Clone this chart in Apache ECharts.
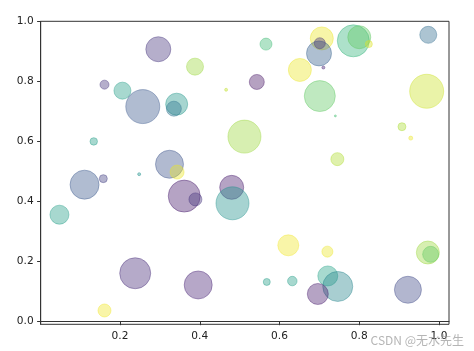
<!DOCTYPE html>
<html>
<head>
<meta charset="utf-8">
<script src="https://cdn.jsdelivr.net/npm/echarts@6/dist/echarts.min.js"></script>
<style>html,body{margin:0;padding:0;background:#fff;}#c{width:474px;height:351px;}</style>
</head>
<body>
<div id="c"></div>
<script>
var xs = [0.296,0.161,0.206,0.257,0.342,0.335,0.134,0.324,0.343,0.248,
          0.111,0.158,0.048,0.238,0.161,0.361,0.389,0.396,0.480,0.482,
          0.622,0.568,0.632,0.720,0.721,0.746,0.696,0.922,0.972,0.979,
          0.388,0.566,0.543,0.466,0.512,0.651,0.706,0.699,0.701,0.710,
          0.785,0.800,0.824,0.973,0.701,0.740,0.969,0.907,0.929,0.745];
var ys = [0.907,0.789,0.769,0.716,0.724,0.709,0.600,0.524,0.498,0.491,
          0.456,0.476,0.356,0.161,0.037,0.418,0.407,0.122,0.447,0.394,
          0.254,0.132,0.135,0.233,0.152,0.117,0.092,0.106,0.230,0.224,
          0.849,0.924,0.798,0.772,0.616,0.838,0.943,0.893,0.927,0.846,
          0.935,0.947,0.924,0.955,0.751,0.685,0.767,0.649,0.611,0.541];
// marker area (like matplotlib "s"), px^2
var areas = [625,81,289,1156,484,225,56,784,196,9,
             841,64,361,961,169,1024,169,784,576,1089,
             441,49,90,121,400,900,441,729,529,256,
             289,144,225,9,1089,529,529,625,121,9,
             1024,529,49,289,961,4,1156,64,16,169];
// colour values (0..1 on viridis)
var cvals = [0.15,0.15,0.55,0.27,0.52,0.38,0.55,0.25,0.97,0.5,
             0.27,0.18,0.55,0.12,0.98,0.07,0.15,0.10,0.07,0.50,
             0.98,0.55,0.55,0.97,0.58,0.45,0.07,0.22,0.85,0.75,
             0.85,0.68,0.05,0.90,0.85,0.97,0.97,0.30,0.15,0.10,
             0.65,0.75,0.95,0.35,0.75,0.70,0.92,0.87,0.97,0.88];
var xTicks = [0.2,0.4,0.6,0.8,1.0];
var yTicks = [0.0,0.2,0.4,0.6,0.8,1.0];

var viridis = ['#440154','#482475','#414487','#355f8d','#2a788e','#21918c','#22a884','#44bf70','#7ad151','#bddf26','#fde725'];
function hex(h){return [parseInt(h.substr(1,2),16),parseInt(h.substr(3,2),16),parseInt(h.substr(5,2),16)];}
function cmap(v,a){
  var t=Math.max(0,Math.min(1,v))*10, i=Math.min(9,Math.floor(t)), f=t-i;
  var c0=hex(viridis[i]), c1=hex(viridis[i+1]);
  var r=Math.round(c0[0]+(c1[0]-c0[0])*f), g=Math.round(c0[1]+(c1[1]-c0[1])*f), b=Math.round(c0[2]+(c1[2]-c0[2])*f);
  return 'rgba('+r+','+g+','+b+','+a+')';
}
var data = xs.map(function(x,i){
  return {value:[x,ys[i],areas[i]], itemStyle:{color:cmap(cvals[i],0.5), borderColor:cmap(cvals[i],0.5), borderWidth:1}};
});
var font = 'DejaVu Sans';
var chart = echarts.init(document.getElementById('c'), null, {renderer:'canvas'});
chart.setOption({
  animation:false,
  backgroundColor:'#fff',
  grid:{left:40.7, top:21.3, right:25, bottom:26.7, show:true, borderColor:'#333', borderWidth:1, backgroundColor:'transparent'},
  xAxis:{type:'value', min:0.001, max:1.025,
    axisLine:{show:true, lineStyle:{color:'#333'}},
    axisTick:{show:true, inside:false, length:3.6, lineStyle:{color:'#333'}, customValues:xTicks},
    axisLabel:{show:true, margin:6, color:'#222', fontFamily:font, fontSize:10.6, customValues:xTicks,
      formatter:function(v){return v.toFixed(1);}},
    splitLine:{show:false}},
  yAxis:{type:'value', min:-0.009, max:1.0,
    axisLine:{show:true, lineStyle:{color:'#333'}},
    axisTick:{show:true, inside:false, length:3.6, lineStyle:{color:'#333'}, customValues:yTicks},
    axisLabel:{show:true, margin:7, color:'#222', fontFamily:font, fontSize:10.6, customValues:yTicks,
      formatter:function(v){return v.toFixed(1);}},
    splitLine:{show:false}},
  series:[{type:'scatter', data:data, symbol:'circle',
    symbolSize:function(v){return Math.sqrt(v[2]);},
    emphasis:{disabled:true}}],
  graphic:[{type:'text', right:10, bottom:5, style:{text:'CSDN @无水先生', fill:'rgba(150,150,150,0.7)', font:'12px "Noto Sans CJK SC", sans-serif'}, z:100}]
});
</script>
</body>
</html>
